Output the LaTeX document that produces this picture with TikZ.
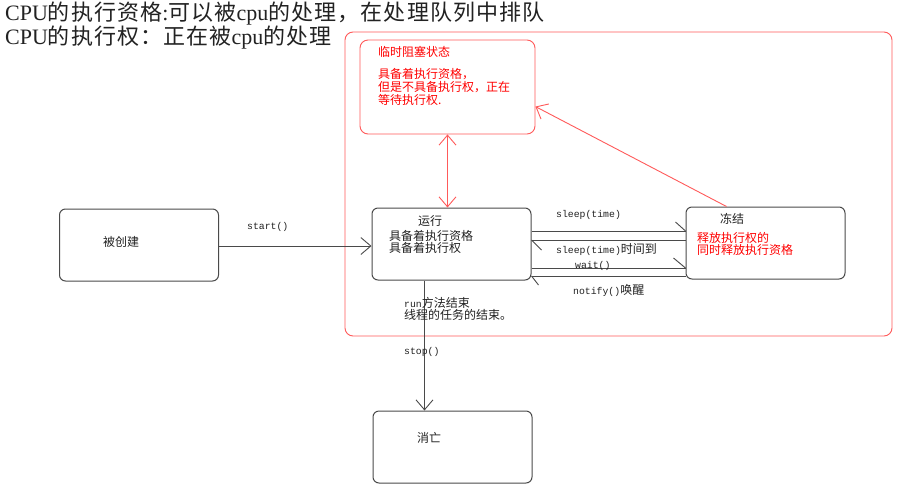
\documentclass[tikz,border=0pt]{standalone}
\usepackage{fontspec}
\setmainfont{Liberation Serif}
\newfontfamily\cjk{Noto Sans CJK SC}
\newfontfamily\cjkt[LetterSpace=5]{Noto Sans CJK SC}
\newfontfamily\mono{Liberation Mono}
\usetikzlibrary{arrows.meta,calc}
\definecolor{boxred}{HTML}{FF5A5A}
\definecolor{boxgray}{HTML}{4A4A4A}
\definecolor{ink}{HTML}{222222}
\newcommand\zh[1]{{\cjk\fontsize{12}{14}\selectfont #1}}
\newcommand\tz[1]{{\cjkt #1}}
\tikzset{
  state/.style={draw=boxgray, line width=1pt, rounded corners=6pt, minimum width=159pt, minimum height=72pt, inner sep=0pt},
  redbox/.style={draw=boxred, line width=0.9pt, rounded corners=8pt, inner sep=0pt},
  txt/.style={anchor=west, inner sep=0pt, font=\cjk\fontsize{12}{14}\selectfont, text=ink},
  rtxt/.style={txt, text=red},
  mtxt/.style={anchor=west, inner sep=0pt, font=\mono\fontsize{9.8}{12}\selectfont, text=ink},
  ttxt/.style={anchor=west, inner sep=0pt, font=\fontsize{22}{24}\selectfont, text=ink},
  conn/.style={draw=boxgray, line width=0.9pt},
  rconn/.style={draw=boxred, line width=0.9pt},
  tip/.style={-{Straight Barb[length=10pt,width=17pt]}},
  tips/.style={{Straight Barb[length=10pt,width=17pt]}-{Straight Barb[length=10pt,width=17pt]}}
}
\begin{document}
\begin{tikzpicture}[x=1pt,y=-1pt]
\useasboundingbox[fill=white] (0,0) rectangle (914,491);

% title
\node[ttxt] (t1) at (5,14) {CPU\tz{的执行资格}:\tz{可以被}cpu\tz{的处理，在处理队列中排队}};
\node[ttxt] (t2) at (5,37.5) {CPU\tz{的执行权：正在被}cpu\tz{的处理}};

% boxes
\node[redbox, minimum width=547pt, minimum height=304pt] (outer) at (618.5,184) {};
\node[redbox, minimum width=175pt, minimum height=94pt] (block) at (447.5,87) {};
\node[state] (created) at (139,245) {};
\node[state] (run) at (451.5,244) {};
\node[state] (frozen) at (765.5,243) {};
\node[state] (dead) at (452.5,447) {};

% texts in boxes
\node[rtxt] (bt0) at (378,52) {临时阻塞状态};
\node[rtxt] (bt1) at (378,74) {具备着执行资格，};
\node[rtxt] (bt2) at (378,87) {但是不具备执行权，正在};
\node[rtxt] (bt3) at (378,100) {等待执行权.};

\node[txt] (ct) at (103,242) {被创建};

\node[txt] (rt0) at (418,221) {运行};
\node[txt] (rt1) at (389,236) {具备着执行资格};
\node[txt] (rt2) at (389,248) {具备着执行权};

\node[txt] (ft0) at (720,219) {冻结};
\node[rtxt] (ft1) at (697,238) {释放执行权的};
\node[rtxt] (ft2) at (697,250) {同时释放执行资格};

\node[txt] (dt) at (417,438) {消亡};

% connectors
\draw[conn, tip] (created.east |- 0,246) -- (run.west |- 0,246);
\draw[rconn, tips] (block.south) -- (block.south |- run.north);
\draw[rconn, tip] ($(frozen.north west)+(41,0)$) -- ($(block.north east)+(0,67)$);
\coordinate (rs) at ($(run.south west)+(53,0)$);
\draw[conn, tip] (rs) -- (rs |- dead.north);

\draw[conn] (run.east |- 0,231) -- (frozen.west |- 0,231);
\draw[conn] (frozen.west |- 0,231) -- ++(-10,-9);
\draw[conn] (frozen.west |- 0,240) -- (run.east |- 0,240);
\draw[conn] (run.east |- 0,240) -- ++(10,10);
\draw[conn] (run.east |- 0,268) -- (frozen.west |- 0,268);
\draw[conn] (frozen.west |- 0,268) -- ++(-12,-10);
\draw[conn] (frozen.west |- 0,276) -- (run.east |- 0,276);
\draw[conn] (run.east |- 0,276) -- ++(7,9);

% connector labels
\node[mtxt] (ls) at (247,227) {start()};
\node[mtxt] (l1) at (556,215) {sleep(time)};
\node[mtxt] (l2) at (556,250) {sleep(time)\zh{时间到}};
\node[mtxt] (l3) at (575,266) {wait()};
\node[mtxt] (l4) at (573,290) {notify()\zh{唤醒}};
\node[mtxt] (l5) at (404,303) {run\zh{方法结束}};
\node[txt] (l6) at (404,315) {线程的任务的结束。};
\node[mtxt] (l7) at (404,352) {stop()};
\end{tikzpicture}
\end{document}
